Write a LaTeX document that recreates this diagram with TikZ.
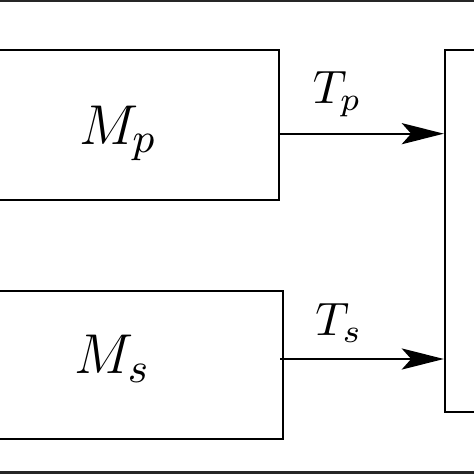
\documentclass[tikz,border=0pt]{standalone}
\usepackage{amsmath}
\usepackage{tikz}
\usetikzlibrary{arrows.meta,positioning,calc}
\tikzset{module/.style={rectangle, draw=black, line width=0.5pt, inner sep=0pt},
	flow/.style={-{Stealth[length=9pt,width=4.5pt,inset=2pt]}, line width=0.5pt},
	frame/.style={line width=0.65pt, draw=black!85}}

\begin{document}
\begin{tikzpicture}[x=0.0075cm,y=-0.0075cm]
		\useasboundingbox (0,0) rectangle (474,474);
		\clip (0,0) rectangle (474,474);
		\draw[frame] (-5,0.5) -- (480,0.5) (-5,472.5) -- (480,472.5);
		\node[module, minimum width=2.3925cm, minimum height=1.125cm] (Mpbox) at (119.5,125) {};
		\node[module, minimum width=2.4225cm, minimum height=1.11cm] (Msbox) at (121.5,365) {};
		\node[module, minimum width=0.75cm, minimum height=2.715cm] (plant) at (495,231) {};
		\node[font=\fontsize{12.5}{15}\selectfont, inner sep=0pt] (Mp) at (118,133.7) {$M_p$};
		\node[font=\fontsize{12.5}{15}\selectfont, inner sep=0pt] (Ms) at (112.5,359) {$M_s$};
		\draw[flow] (Mp.center -| Mpbox.east) -- (Mp.center -| plant.west) node[above,pos=0.35]{$T_p$};
		\draw[flow] (Ms.center -| Mpbox.east) -- (Ms.center -| plant.west) node[above,pos=0.36]{$T_s$};
		\end{tikzpicture}
\end{document}
